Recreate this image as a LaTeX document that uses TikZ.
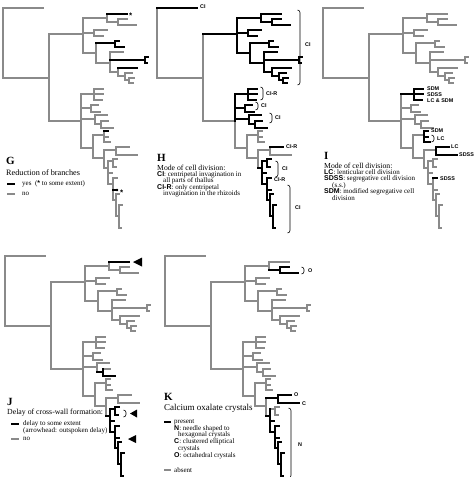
\documentclass[tikz,border=0pt]{standalone}
\usepackage{fontspec}
\setmainfont{Liberation Serif}
\setsansfont{Liberation Sans}
\definecolor{treegray}{RGB}{138,138,138}
\newif\ifblackpass
\newcommand\blist{0}
\makeatletter
\newcommand\Sg[5]{%
  \edef\sg@tmp{\noexpand\in@{,#1,}{,\blist,}}\sg@tmp
  \ifin@
    \ifblackpass\draw[blk] (#2,#3)--(#4,#5);\fi
  \else
    \ifblackpass\else\draw[gry] (#2,#3)--(#4,#5);\fi
  \fi}
\makeatother
\newcommand\treesegs{%
\Sg{1}{3}{8}{43}{8}
\Sg{2}{3}{8}{3}{78}
\Sg{3}{3}{78}{49}{78}
\Sg{4}{49}{34}{49}{121}
\Sg{5}{49}{34}{83}{34}
\Sg{6}{83}{18}{83}{53}
\Sg{7}{83}{18}{107}{18}
\Sg{8}{107}{14}{107}{22}
\Sg{9}{107}{14}{127}{14}
\Sg{10}{107}{22}{118}{22}
\Sg{11}{118}{19}{118}{25}
\Sg{12}{118}{19}{127}{19}
\Sg{13}{118}{25}{136}{25}
\Sg{14}{83}{33}{94}{33}
\Sg{15}{94}{30}{94}{36}
\Sg{16}{94}{30}{107}{30}
\Sg{17}{94}{36}{103}{36}
\Sg{18}{83}{53}{96}{53}
\Sg{19}{96}{43}{96}{63}
\Sg{20}{96}{43}{115}{43}
\Sg{21}{115}{41}{115}{47}
\Sg{22}{115}{41}{119}{41}
\Sg{23}{115}{47}{124}{47}
\Sg{24}{96}{63}{110}{63}
\Sg{25}{110}{52}{110}{72}
\Sg{26}{110}{52}{123}{52}
\Sg{27}{110}{60}{145}{60}
\Sg{28}{145}{57}{145}{63}
\Sg{29}{145}{57}{148}{57}
\Sg{30}{145}{63}{147}{63}
\Sg{31}{110}{72}{118}{72}
\Sg{32}{118}{68}{118}{76}
\Sg{33}{118}{68}{137}{68}
\Sg{34}{118}{76}{125}{76}
\Sg{35}{125}{73}{125}{80}
\Sg{36}{125}{73}{132}{73}
\Sg{37}{125}{80}{129}{80}
\Sg{38}{129}{78}{129}{83}
\Sg{39}{129}{78}{134}{78}
\Sg{40}{129}{83}{133}{83}
\Sg{41}{49}{121}{81}{121}
\Sg{42}{81}{94}{81}{121}
\Sg{90}{81}{121}{81}{148}
\Sg{43}{81}{94}{94}{94}
\Sg{44}{94}{89}{94}{100}
\Sg{45}{94}{89}{103}{89}
\Sg{46}{94}{100}{102}{100}
\Sg{47}{94}{94}{103}{94}
\Sg{48}{81}{108}{91}{108}
\Sg{49}{91}{105}{91}{112}
\Sg{50}{91}{105}{98}{105}
\Sg{51}{91}{112}{100}{112}
\Sg{52}{81}{119}{95}{119}
\Sg{53}{95}{115}{95}{124}
\Sg{54}{95}{115}{107}{115}
\Sg{55}{95}{124}{101}{124}
\Sg{56}{101}{121}{101}{128}
\Sg{57}{101}{121}{108}{121}
\Sg{58}{101}{128}{113}{128}
\Sg{59}{81}{148}{93}{148}
\Sg{60}{93}{135}{93}{158}
\Sg{61}{93}{135}{104}{135}
\Sg{62}{104}{131}{104}{142}
\Sg{63}{104}{131}{108}{131}
\Sg{64}{104}{137}{108}{137}
\Sg{65}{104}{142}{110}{142}
\Sg{66}{93}{158}{104}{158}
\Sg{67}{104}{150}{104}{168}
\Sg{68}{104}{150}{116}{150}
\Sg{69}{116}{147}{116}{155}
\Sg{70}{116}{147}{129}{147}
\Sg{71}{116}{155}{137}{155}
\Sg{72}{104}{168}{108}{168}
\Sg{73}{108}{161}{108}{184}
\Sg{74}{108}{161}{113}{161}
\Sg{75}{113}{159}{113}{167}
\Sg{76}{113}{159}{117}{159}
\Sg{77}{113}{167}{116}{167}
\Sg{78}{108}{173}{112}{173}
\Sg{79}{108}{184}{113}{184}
\Sg{80}{113}{178}{113}{200}
\Sg{81}{113}{178}{117}{178}
\Sg{82}{113}{190}{117}{190}
\Sg{83}{113}{200}{116}{200}
\Sg{84}{116}{194}{116}{216}
\Sg{85}{116}{194}{119}{194}
\Sg{86}{116}{216}{119}{216}
\Sg{87}{119}{205}{119}{228}
\Sg{88}{119}{205}{122}{205}
\Sg{89}{119}{228}{121}{228}
}
\newcommand\drawtree{\blackpassfalse\treesegs\blackpasstrue\treesegs}
\newcommand\brk[3]{\draw[brkst] (#1-2.5,#2) to[out=0,in=90] (#1,#2+2.5) -- (#1,#3-2.5) to[out=-90,in=0] (#1-2.5,#3);}
\tikzset{
  gry/.style={draw=treegray, line width=2.3pt, line cap=rect},
  blk/.style={draw=black, line width=2.6pt, line cap=rect},
  brkst/.style={draw=black, line width=0.6pt},
  lab/.style={font=\fontsize{7}{7}\selectfont, inner sep=0pt, anchor=west},
  ttl/.style={lab, font=\fontsize{#1}{#1}\selectfont},
  tl/.style={font=\sffamily\bfseries\fontsize{5.4}{5.4}\selectfont, inner sep=0pt, anchor=west},
  star/.style={font=\sffamily\bfseries\fontsize{8}{8}\selectfont, inner sep=0pt, anchor=west},
  letter/.style={font=\bfseries\fontsize{11}{11}\selectfont, inner sep=0pt, anchor=west},
  gdash/.style={draw=treegray, line width=1.6pt},
  bdash/.style={draw=black, line width=2pt},
  tri/.style={fill=black}
}
\begin{document}
\begin{tikzpicture}[x=1pt,y=-1pt]
\useasboundingbox (0,0) rectangle (474,477);
\fill[white] (0,0) rectangle (474,477);
% ---------------- G
\begin{scope}
\def\blist{9,20,21,22,23,27,28,29,30,33,63,82}
\drawtree
\node[star] (gs1) at (129,16) {*};
\fill (117,190) circle (1.4);
\node[star] (gs2) at (120,193) {*};
\node[letter] (gL) at (6,161) {G};
\node[ttl=8.2] (g1) at (6,173) {Reduction of branches};
\draw[bdash] (7,184) -- (15,184);
\node[lab] (g2) at (22,184) {yes\enspace(\textsf{\textbf{*}} to some extent)};
\draw[gdash] (7,194) -- (15,194);
\node[lab] (g3) at (22,194) {no};
\end{scope}
% ---------------- H
\begin{scope}[shift={(154,0)}]
\def\blist{1,5,6,7,8,9,10,11,12,13,14,15,16,17,18,19,20,21,22,23,24,25,26,27,28,29,30,31,32,33,34,35,36,37,38,39,40,42,43,44,45,46,47,48,49,50,51,52,53,54,55,56,57,58,70,72,73,74,75,76,77,78,79,80,81,82,83,84,85,86,87,88,89}
\drawtree
\node[tl] (h0) at (46,7) {CI};
\brk{146}{10}{85}
\node[tl] (h1) at (151,45) {CI};
\brk{109}{87}{100}
\node[tl] (h2) at (112,94) {CI-R};
\brk{104}{102}{110}
\node[tl] (h3) at (107,106) {CI};
\brk{118}{113}{123}
\node[tl] (h4) at (121,118) {CI};
\node[tl] (h5) at (132,147) {CI-R};
\brk{124}{161}{177}
\node[tl] (h6) at (128,169) {CI};
\node[tl] (h7) at (120,180) {CI-R};
\brk{136}{185}{233}
\node[tl] (h8) at (141,208) {CI};
\node[letter] (hL) at (3,158) {H};
\node[ttl=7.7] (ht1) at (3,167.5) {Mode of cell division:};
\node[lab] (ht2) at (3,174.5) {\textsf{\textbf{CI}}: centripetal invagination in};
\node[lab] (ht3) at (9,181) {all parts of thallus};
\node[lab] (ht4) at (3,187.5) {\textsf{\textbf{CI-R}}: only centripetal};
\node[lab] (ht5) at (9,194) {invagination in the rhizoids};
\end{scope}
% ---------------- I
\begin{scope}[shift={(320,0)}]
\def\blist{43,44,45,46,47,62,63,64,65,69,70,71,81}
\drawtree
\node[tl] (i1) at (107,88.5) {SDM};
\node[tl] (i2) at (107,94.5) {SDSS};
\node[tl] (i3) at (107,100.5) {LC \& SDM};
\node[tl] (i4) at (111,131) {SDM};
\brk{114}{135}{142}
\node[tl] (i5) at (117,139) {LC};
\node[tl] (i6) at (131,147) {LC};
\node[tl] (i7) at (139,155) {SDSS};
\node[tl] (i8) at (120,179) {SDSS};
\node[letter] (iL) at (4,156) {I};
\node[ttl=7.7] (it1) at (4,166) {Mode of cell division:};
\node[lab] (it2) at (4,172.5) {\textsf{\textbf{LC}}: lenticular cell division};
\node[lab] (it3) at (4,179) {\textsf{\textbf{SDSS}}: segregative cell division};
\node[lab] (it4) at (12,185.5) {(s.s.)};
\node[lab] (it5) at (4,192) {\textsf{\textbf{SDM}}: modified segregative cell};
\node[lab] (it6) at (12,198.5) {division};
\end{scope}
% ---------------- J
\begin{scope}[shift={(2,248)}]
\def\blist{9,55,56,58,72,73,74,75,76,77,78,79,80,81,82,83,84,85,86,87,88,89}
\drawtree
\fill[tri] (131,14) -- (140,9.5) -- (140,18.5) -- cycle;
\brk{124}{162}{169}
\fill[tri] (128,165.5) -- (135,161.5) -- (135,169.5) -- cycle;
\fill[tri] (126,191) -- (134,187) -- (134,195) -- cycle;
\node[letter] (jL) at (5,154) {J};
\node[ttl=7.8] (jt1) at (5,165) {Delay of cross-wall formation:};
\draw[bdash] (9,176) -- (17,176);
\node[lab] (jt2) at (21,176) {delay to some extent};
\node[lab] (jt3) at (21,183) {(arrowhead: outspoken delay)};
\draw[gdash] (9,191) -- (17,191);
\node[lab] (jt4) at (21,191) {no};
\end{scope}
% ---------------- K
\begin{scope}[shift={(162,248)}]
\def\blist{10,11,12,13,68,69,70,71,72,73,78,79,80,81,82,83,84,85,86,87,88,89}
\drawtree
\brk{142}{19}{26}
\node[tl] (k1) at (146,22.5) {O};
\node[tl] (k2) at (132,146.5) {O};
\node[tl] (k3) at (140,156) {C};
\brk{129}{160}{230}
\node[tl] (k4) at (136,197) {N};
\node[letter] (kL) at (2,149) {K};
\node[ttl=9] (kt1) at (2,160.5) {Calcium oxalate crystals};
\draw[bdash] (2,174) -- (9,174);
\node[lab] (kt2) at (12,174) {present};
\node[lab] (kt3) at (12,180.5) {\textsf{\textbf{N}}: needle shaped to};
\node[lab] (kt4) at (16,187) {hexagonal crystals};
\node[lab] (kt5) at (12,194) {\textsf{\textbf{C}}: clustered elliptical};
\node[lab] (kt6) at (16,200.5) {crystals};
\node[lab] (kt7) at (12,208) {\textsf{\textbf{O}}: octahedral crystals};
\draw[gdash] (2,222) -- (9,222);
\node[lab] (kt8) at (12,222) {absent};
\end{scope}
\end{tikzpicture}
\end{document}
